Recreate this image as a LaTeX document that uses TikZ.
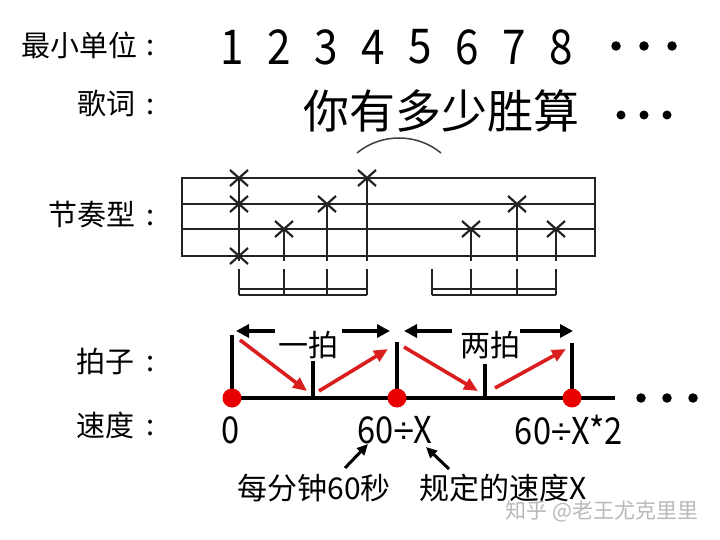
\documentclass[tikz,border=0pt]{standalone}
\usepackage{fontspec}
\setmainfont{Noto Sans CJK SC}
\newfontfamily\numf[FakeStretch=0.88]{Noto Sans CJK SC}
\newfontfamily\divf{Liberation Sans}
\usetikzlibrary{arrows.meta}
\definecolor{dotred}{RGB}{232,0,0}
\definecolor{arrowred}{RGB}{218,30,30}
\definecolor{inkgray}{RGB}{35,35,35}
\begin{document}
\begin{tikzpicture}[x=1pt,y=-1pt,
  lbl/.style={anchor=east,inner sep=0pt,font=\fontsize{29}{29}\selectfont},
  colon/.style={inner sep=0pt,font=\fontsize{29}{29}\selectfont},
  num/.style={inner sep=0pt,font=\numf\fontsize{48}{48}\selectfont},
  val/.style={inner sep=0pt,font=\numf\fontsize{37}{37}\selectfont},
  note/.style={inner sep=0pt,font=\fontsize{30}{30}\selectfont},
  staffline/.style={line width=2.3pt,draw=inkgray},
  stemline/.style={line width=2.3pt,draw=inkgray},
  xmark/.style={line width=2.2pt,draw=inkgray},
  barline/.style={line width=3.5pt},
  beatarrow/.style={line width=4pt,-{Triangle[length=13pt,width=13pt]}},
  redarrow/.style={line width=3.6pt,draw=arrowred,-{Triangle[length=14pt,width=12pt,fill=arrowred]}},
  blkarrow/.style={line width=3pt,-{Triangle[length=11pt,width=10pt]}},
  dotnode/.style={circle,fill=black,inner sep=0pt,minimum size=9.5pt},
  reddot/.style={circle,fill=dotred,inner sep=0pt,minimum size=19pt},
]
\useasboundingbox (0,0) rectangle (720,540);

% ---- labels
\node[lbl] (l1) at (138,45) {最小单位};
\node[colon] (c1) at (151,48) {:};
\node[lbl] (l2) at (136,104) {歌词};
\node[colon] (c2) at (151,107) {:};
\node[lbl] (l3) at (136,215) {节奏型};
\node[colon] (c3) at (151,218) {:};
\node[lbl] (l4) at (135,361) {拍子};
\node[colon] (c4) at (151,364) {:};
\node[lbl] (l5) at (135,425) {速度};
\node[colon] (c5) at (151,428) {:};

% ---- smallest units
\foreach \i/\x in {1/232,2/279,3/326,4/373,5/420,6/467,7/514,8/561}
  \node[num] (n\i) at (\x,47) {\i};
\foreach \x [count=\k] in {616,644,672}
  \node[dotnode] (da\k) at (\x,46) {};

% ---- lyrics
\node[inner sep=0pt,font=\fontsize{46}{46}\selectfont] (lyr) at (441,111) {你有多少胜算};
\foreach \x [count=\k] in {621,644,667}
  \node[dotnode,minimum size=9pt] (db\k) at (\x,115) {};

% ---- tie
\draw[line width=1.5pt,draw=black!75] (357,153) .. controls (381,133) and (417,133) .. (441,153);

% ---- staff
\draw[staffline] (182,178) rectangle (595,256);
\draw[staffline] (182,204) -- (595,204);
\draw[staffline] (182,229) -- (595,229);
\foreach \x/\y in {239/178,284/229,327/204,367/178,471/229,517/204,556/229}
  \draw[stemline] (\x,\y) -- (\x,261);
\foreach \x/\y in {239/178,239/204,239/256,284/229,327/204,367/178,471/229,517/204,556/229}
  \draw[xmark] (\x-9,\y-8) -- (\x+9,\y+8) (\x-9,\y+8) -- (\x+9,\y-8);
% beams
\foreach \x in {239,284,327,367,432,471,517,556}
  \draw[stemline] (\x,269) -- (\x,295);
\draw[stemline] (239,289) -- (367,289) (239,295) -- (367,295);
\draw[stemline] (432,289) -- (556,289) (432,295) -- (556,295);

% ---- beats
\coordinate (b0) at (232,398);
\coordinate (h1) at (313,398);
\coordinate (b1) at (397,398);
\coordinate (h2) at (485,398);
\coordinate (b2) at (572,398);
\coordinate (bend) at (615,398);
\draw[barline] (b0) -- (bend);
\draw[barline] (b0) -- (232,335);
\draw[barline] (h1) -- (313,361);
\draw[barline] (b1) -- (397,342);
\draw[barline] (h2) -- (485,364);
\draw[barline] (b2) -- (572,343);
\node[reddot] (r0) at (b0) {};
\node[reddot] (r1) at (b1) {};
\node[reddot] (r2) at (b2) {};
\foreach \x [count=\k] in {641,667,693}
  \node[dotnode] (dc\k) at (\x,398) {};

% beat span arrows
\coordinate (a1s) at (275,331); \coordinate (a1e) at (236,331);
\coordinate (a2s) at (342,331); \coordinate (a2e) at (390,331);
\coordinate (a3s) at (452,331); \coordinate (a3e) at (404,331);
\coordinate (a4s) at (520,331); \coordinate (a4e) at (573,331);
\draw[beatarrow] (a1s) -- (a1e);
\draw[beatarrow] (a2s) -- (a2e);
\draw[beatarrow] (a3s) -- (a3e);
\draw[beatarrow] (a4s) -- (a4e);
\node[note] (yipai) at (308,345) {一拍};
\node[note] (liangpai) at (490,345) {两拍};

% red arrows
\coordinate (ra1) at (240,340); \coordinate (rb1) at (307,391);
\coordinate (ra2) at (319,391); \coordinate (rb2) at (388,349);
\coordinate (ra3) at (404,347); \coordinate (rb3) at (478,391);
\coordinate (ra4) at (495,388); \coordinate (rb4) at (566,349);
\draw[redarrow] (ra1) -- (rb1);
\draw[redarrow] (ra2) -- (rb2);
\draw[redarrow] (ra3) -- (rb3);
\draw[redarrow] (ra4) -- (rb4);

% ---- speed values
\node[val] (v0) at (231,430) {0};
\node[val] (v1) at (395,430) {60{\divf ÷}X};
\node[val] (v2) at (569,430) {60{\divf ÷}X*2};

% ---- notes
\node[note] (t1) at (314,488) {每分钟60秒};
\node[note] (t2) at (503,488) {规定的速度X};
\coordinate (p1s) at (345,468); \coordinate (p1e) at (368,444);
\coordinate (p2s) at (449,469); \coordinate (p2e) at (426,447);
\draw[blkarrow] (p1s) -- (p1e);
\draw[blkarrow] (p2s) -- (p2e);

% ---- watermark
\node[inner sep=0pt,text=black!28,font=\fontsize{21}{21}\selectfont] (wm) at (602,511) {知乎 @老王尤克里里};
\end{tikzpicture}
\end{document}
